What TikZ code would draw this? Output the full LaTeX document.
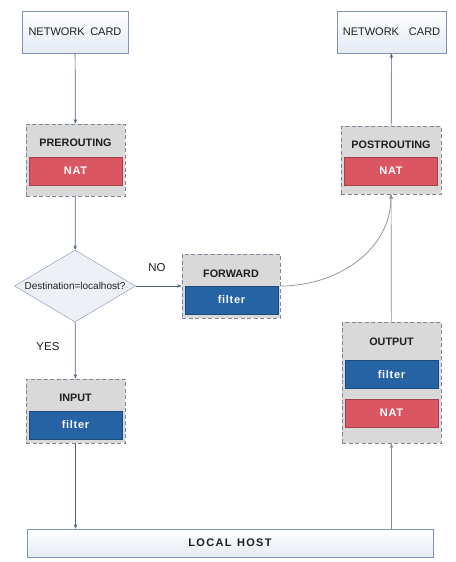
\documentclass[tikz,border=0pt]{standalone}
\usepackage{fontspec}
\setmainfont{Liberation Sans}
\newfontfamily\barfont[LetterSpace=6]{Liberation Sans}
\newfontfamily\hostfont[LetterSpace=12]{Liberation Sans}
\usetikzlibrary{arrows.meta,shapes.geometric}
\definecolor{cardline}{HTML}{8193B2}
\definecolor{cardfill}{HTML}{E4EAF4}
\definecolor{diamondfill}{HTML}{EEF0F8}
\definecolor{boxfill}{HTML}{D9D9D9}
\definecolor{boxline}{HTML}{7D8798}
\definecolor{natred}{HTML}{D95662}
\definecolor{filterblue}{HTML}{2663A4}
\definecolor{flowline}{HTML}{4F6382}
\definecolor{grayline}{HTML}{8C8C8C}
\definecolor{labeltext}{HTML}{1F1F1F}
\tikzset{
  card/.style={draw=cardline, top color=white, bottom color=cardfill, minimum height=42pt, inner sep=0pt, text=labeltext, font=\fontsize{11}{13}\selectfont},
  chainbox/.style={draw=boxline, fill=boxfill, dash pattern=on 4pt off 2.5pt, line width=0.8pt, inner sep=0pt},
  title/.style={text=labeltext, font=\fontsize{10.8}{13}\selectfont\bfseries},
  bar/.style={minimum width=93pt, minimum height=28pt, inner sep=0pt, text=white, line width=0.5pt, font=\barfont\fontsize{11}{13}\selectfont\bfseries},
  natbar/.style={bar, fill=natred, draw=natred!75!black},
  filterbar/.style={bar, fill=filterblue, draw=filterblue!75!black},
  answer/.style={text=labeltext, font=\fontsize{11.5}{13}\selectfont},
  flow/.style={draw=flowline, line width=0.7pt, -{Stealth[length=4.5pt, width=3.5pt]}},
  grayflow/.style={flow, draw=grayline},
}
\begin{document}
\begin{tikzpicture}[x=1pt, y=-1pt]
\useasboundingbox [fill=white] (0,0) rectangle (455,562);
\node [card, minimum width=106pt] (cardin) at (75,32) {NETWORK\enspace CARD};
\node [card, minimum width=109pt] (cardout) at (391.5,32) {NETWORK\hspace{0.9em}CARD};
\node [chainbox, minimum width=99pt, minimum height=72pt] (pre) at (75.5,160) {};
\node [title] (pretitle) at (75.5,143) {PREROUTING};
\node [natbar] (prenat) at (75.5,171) {NAT};
\node [chainbox, minimum width=100pt, minimum height=68pt] (post) at (391,160) {};
\node [title] (posttitle) at (391,145) {POSTROUTING};
\node [natbar] (postnat) at (391,171) {NAT};
\node [diamond, draw=cardline, fill=diamondfill, aspect=1.68, minimum width=121pt, minimum height=72pt, inner sep=0pt, text=labeltext, font=\fontsize{10}{11}\selectfont] (dest) at (75,286) {Destination=localhost?};
\node [chainbox, minimum width=98pt, minimum height=64pt] (fwd) at (231,286) {};
\node [title] (fwdtitle) at (231,274) {FORWARD};
\node [filterbar] (fwdfilter) at (231.5,300) {filter};
\node [chainbox, minimum width=99pt, minimum height=64pt] (input) at (75.5,411) {};
\node [title] (inputtitle) at (75.5,398) {INPUT};
\node [filterbar] (inputfilter) at (75.5,425) {filter};
\node [chainbox, minimum width=99pt, minimum height=121pt] (output) at (391.5,382.5) {};
\node [title] (outputtitle) at (391.5,342) {OUTPUT};
\node [filterbar] (outputfilter) at (391.5,374.5) {filter};
\node [natbar] (outputnat) at (391.5,413) {NAT};
\node [card, minimum width=406pt, minimum height=28pt, font=\hostfont\fontsize{11}{13}\selectfont\bfseries] (host) at (230,543) {LOCAL\enspace HOST};
\node [answer] (no) at (157,268) {NO};
\node [answer] (yes) at (48,347) {YES};
\draw [flow] (cardin) -- (pre);
\draw [flow] (pre) -- (dest);
\draw [flow] (dest) -- (fwd);
\draw [flow] (dest) -- (input);
\draw [flow] (input.south) -- (input.south |- host.north);
\draw [grayflow] (output.south |- host.north) -- (output.south);
\draw [grayflow] (output) -- (post);
\draw [grayflow] (fwd.east) to [out=0, in=-90] (post.south);
\draw [flow] (post) -- (cardout);
\end{tikzpicture}
\end{document}
